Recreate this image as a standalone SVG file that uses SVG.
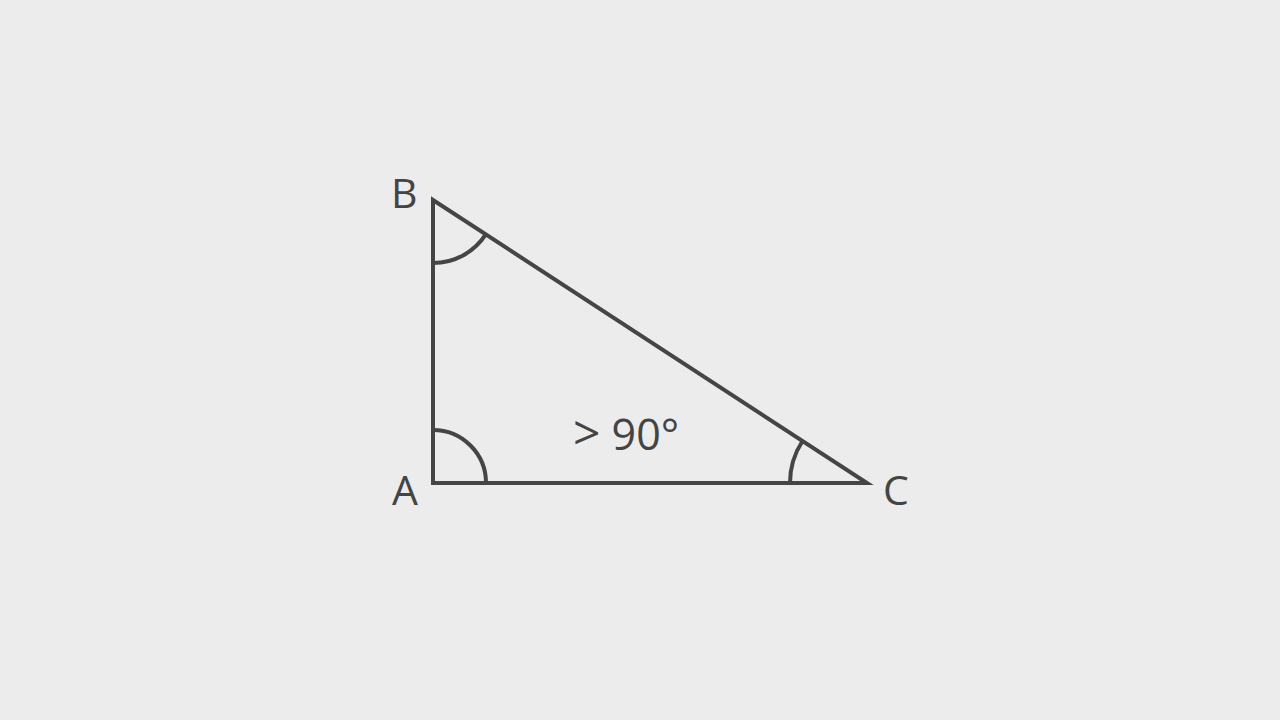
<svg xmlns="http://www.w3.org/2000/svg" width="1280" height="720" viewBox="0 0 1280 720">
<style>
.ln{fill:none;stroke:#454545;stroke-width:4;stroke-linejoin:miter;stroke-linecap:butt}
.lbl{font-family:"Open Sans","DejaVu Sans",sans-serif;font-size:41px;fill:#444}
.ang{font-family:"Open Sans","DejaVu Sans",sans-serif;font-size:43px;fill:#444}
</style>
<rect width="1280" height="720" fill="#ececec"/>
<g id="connectors">
<polygon class="ln" points="433,200 433,483 867,483"/>
</g>
<g id="angleA"><path class="ln" d="M433,430 A53,53 0 0 1 486,483"/></g>
<g id="angleB"><path class="ln" d="M433,263 A63,63 0 0 0 485.8,234.4"/></g>
<g id="angleC"><path class="ln" d="M802.5,441 A77,77 0 0 0 790,483"/></g>
<g id="nodeA"><text class="lbl" x="392" y="505">A</text></g>
<g id="nodeB"><text class="lbl" x="391" y="208">B</text></g>
<g id="nodeC"><text class="lbl" x="883" y="505">C</text></g>
<g id="label"><text class="ang" x="573" y="450"><tspan font-size="48">&gt;</tspan> 90°</text></g>
</svg>
